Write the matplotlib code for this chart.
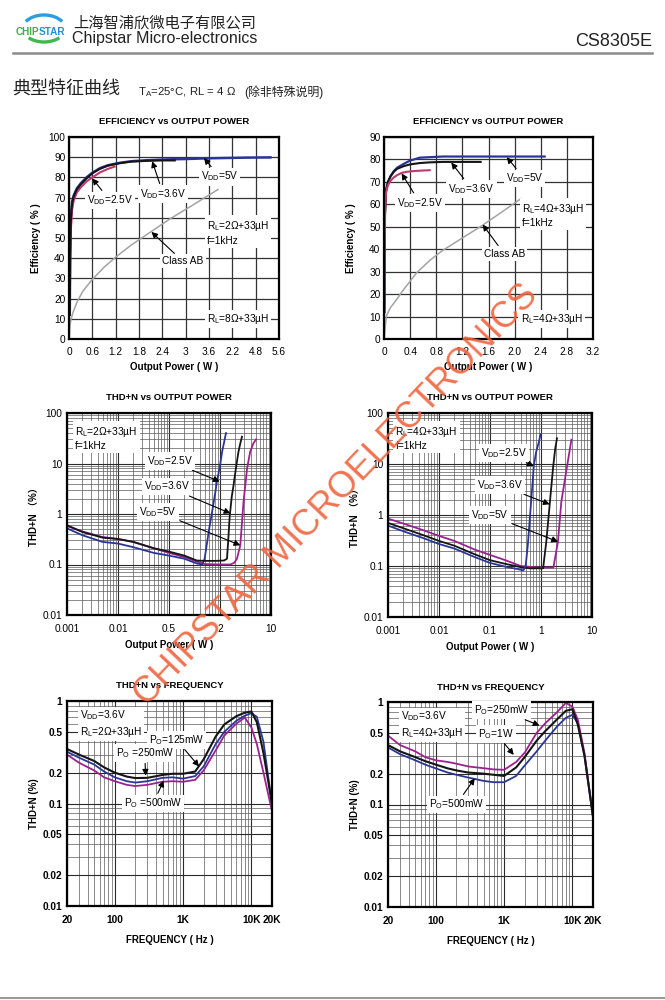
import numpy as np
import matplotlib
matplotlib.use('Agg')
import matplotlib.pyplot as plt
from matplotlib.patches import Arc
from matplotlib.ticker import LogLocator, NullFormatter

plt.rcParams['font.family'] = ['Liberation Sans', 'Noto Sans CJK SC', 'DejaVu Sans']
plt.rcParams['mathtext.fontset'] = 'custom'
plt.rcParams['mathtext.rm'] = 'Liberation Sans'
plt.rcParams['mathtext.it'] = 'Liberation Sans:italic'
plt.rcParams['mathtext.bf'] = 'Liberation Sans:bold'

# ---- efficiency vs output power, RL = 2 ohm ----
eff2_x_25 = [0.02, 0.03, 0.05, 0.08, 0.12, 0.2, 0.3, 0.45, 0.6, 0.8, 1.0, 1.17]
eff2_y_25 = [12, 38, 55, 64, 68.5, 72.5, 75, 78, 80, 82.5, 84.2, 85.3]
eff2_x_36 = [0.02, 0.03, 0.05, 0.08, 0.12, 0.2, 0.3, 0.45, 0.6, 0.8, 1.0, 1.3, 1.6, 2.0, 2.4, 2.72]
eff2_y_36 = [12, 42, 60, 67, 70.5, 74, 76.5, 79.5, 82, 84.3, 85.8, 87, 87.8, 88.2, 88.4, 88.4]
eff2_x_5 = [0.02, 0.03, 0.05, 0.08, 0.12, 0.2, 0.3, 0.45, 0.6, 0.8, 1.0, 1.3, 1.6, 2.0, 2.5, 3.0,
            3.5, 4.0, 4.6, 5.18]
eff2_y_5 = [12, 43, 61, 68, 71, 74.5, 77, 80, 82.3, 84.6, 86, 87.2, 88, 88.5, 88.9, 89.1,
            89.4, 89.6, 89.8, 89.9]
eff2_x_ab = [0, 0.02, 0.05, 0.1, 0.2, 0.35, 0.6, 0.9, 1.2, 1.6, 2.1, 2.6, 3.2, 3.83]
eff2_y_ab = [0, 6, 9.5, 13, 18, 23.5, 29.5, 35.5, 40.5, 46.5, 53, 59.5, 66.5, 74]
eff2_ticks = [0, 0.6, 1.2, 1.8, 2.4, 3.0, 3.6, 4.2, 4.8, 5.4]
eff2_ticklabels = ['0', '0.6', '1.2', '1.8', '2.4', '3', '3.6', '2.2', '4.8', '5.6']

# ---- efficiency vs output power, RL = 4 ohm ----
eff4_x_25 = [0.005, 0.015, 0.03, 0.06, 0.1, 0.15, 0.2, 0.27, 0.35, 0.45, 0.55, 0.7]
eff4_y_25 = [12, 55, 65, 68.5, 70.5, 72, 73, 74, 74.5, 74.8, 75, 75.2]
eff4_x_36 = [0.005, 0.015, 0.03, 0.06, 0.1, 0.15, 0.2, 0.3, 0.4, 0.55, 0.7, 0.9, 1.2, 1.48]
eff4_y_36 = [12, 56, 66, 70, 72.5, 74.5, 75.8, 77, 77.8, 78.4, 78.7, 78.9, 78.9, 78.9]
eff4_x_5 = [0.005, 0.015, 0.03, 0.06, 0.1, 0.15, 0.2, 0.3, 0.4, 0.55, 0.7, 0.9, 1.3, 1.8, 2.2, 2.46]
eff4_y_5 = [12, 56, 66, 70, 72.5, 74.8, 76.3, 78, 79.5, 80.8, 81.0, 81.3, 81.3, 81.3, 81.3, 81.3]
eff4_x_ab = [0, 0.02, 0.04, 0.1, 0.19, 0.3, 0.5, 0.7, 0.9, 1.2, 1.5, 1.8, 2.1]
eff4_y_ab = [0, 6, 10.5, 14, 17.5, 22, 29.5, 35, 39.5, 45, 50.5, 56.5, 62.6]
eff4_ticks = [0, 0.4, 0.8, 1.2, 1.6, 2.0, 2.4, 2.8, 3.2]
eff4_ticklabels = ['0', '0.4', '0.8', '1.2', '1.6', '2.0', '2.4', '2.8', '3.2']

# ---- THD+N vs output power, RL = 2 ohm ----
thd2_x_25 = [0.001, 0.002, 0.005, 0.01, 0.02, 0.05, 0.1, 0.2, 0.35, 0.45, 0.5, 0.56, 0.63,
             0.7, 0.8, 0.87, 1.0, 1.1, 1.31]
thd2_y_25 = [0.52, 0.38, 0.28, 0.26, 0.22, 0.17, 0.15, 0.13, 0.105, 0.1, 0.13, 0.28, 0.6,
             1.1, 2.5, 4.4, 9, 17, 40]
thd2_x_36 = [0.001, 0.002, 0.005, 0.01, 0.02, 0.05, 0.1, 0.2, 0.35, 0.5, 0.8, 1.2, 1.37,
             1.45, 1.55, 1.7, 1.85, 2.05, 2.3, 2.5, 2.7]
thd2_y_36 = [0.6, 0.44, 0.34, 0.32, 0.28, 0.21, 0.18, 0.15, 0.12, 0.118, 0.118, 0.12, 0.13,
             0.3, 0.9, 2.2, 3.8, 8, 17, 25, 34]
thd2_x_5 = [0.001, 0.002, 0.005, 0.01, 0.02, 0.05, 0.1, 0.2, 0.35, 0.5, 1.0, 1.6, 1.9, 2.15,
            2.5, 2.9, 3.4, 3.9, 4.5, 5.1]
thd2_y_5 = [0.58, 0.45, 0.35, 0.32, 0.28, 0.21, 0.17, 0.14, 0.115, 0.102, 0.1, 0.1, 0.108,
            0.13, 0.24, 1.8, 8, 17, 25, 30]

# ---- THD+N vs output power, RL = 4 ohm ----
thd4_x_25 = [0.001, 0.002, 0.005, 0.01, 0.02, 0.05, 0.1, 0.2, 0.35, 0.45, 0.5, 0.55, 0.62,
             0.68, 0.72, 0.8, 0.9, 0.98]
thd4_y_25 = [0.62, 0.48, 0.35, 0.27, 0.22, 0.15, 0.115, 0.097, 0.087, 0.082, 0.1, 0.25, 1.2,
             4, 9, 17, 26, 38]
thd4_x_36 = [0.001, 0.002, 0.005, 0.01, 0.02, 0.05, 0.1, 0.2, 0.4, 0.6, 0.8, 1.1, 1.27,
             1.48, 1.72, 1.9, 2.06]
thd4_y_36 = [0.7, 0.55, 0.4, 0.31, 0.25, 0.17, 0.13, 0.11, 0.095, 0.09, 0.09, 0.09, 0.3,
             1.6, 8.3, 20, 32]
thd4_x_5 = [0.001, 0.002, 0.005, 0.01, 0.02, 0.05, 0.1, 0.2, 0.4, 0.7, 1.0, 1.4, 1.75, 2.15,
            2.5, 3.2, 3.6, 3.95]
thd4_y_5 = [0.85, 0.68, 0.5, 0.39, 0.31, 0.21, 0.165, 0.13, 0.1, 0.095, 0.093, 0.093, 0.093,
            0.3, 1.8, 8.3, 17, 30]

pwr_ticks = [0.001, 0.01, 0.1, 1, 10]
pwr_ticklabels_2 = ['0.001', '0.01', '0.5', '2', '10']
pwr_ticklabels_4 = ['0.001', '0.01', '0.1', '1', '10']
thd_ticks = [0.01, 0.1, 1, 10, 100]
thd_ticklabels = ['0.01', '0.1', '1', '10', '100']

# ---- THD+N vs frequency ----
freq = [20, 30, 50, 70, 100, 150, 200, 300, 500, 700, 1000, 1500, 2000, 3000, 4000, 6000,
        8000, 10000, 12000, 15000, 20000]
f2_125 = [0.34, 0.3, 0.26, 0.225, 0.2, 0.183, 0.177, 0.178, 0.19, 0.195, 0.195, 0.205, 0.27,
          0.45, 0.59, 0.71, 0.77, 0.79, 0.62, 0.31, 0.1]
f2_250 = [0.32, 0.28, 0.24, 0.205, 0.18, 0.165, 0.16, 0.165, 0.178, 0.18, 0.175, 0.185, 0.23,
          0.38, 0.5, 0.64, 0.72, 0.76, 0.7, 0.4, 0.097]
f2_500 = [0.3, 0.25, 0.21, 0.18, 0.165, 0.152, 0.148, 0.152, 0.163, 0.165, 0.163, 0.17, 0.21,
          0.33, 0.46, 0.6, 0.69, 0.55, 0.38, 0.2, 0.084]
f4_250 = [0.47, 0.38, 0.33, 0.29, 0.27, 0.26, 0.25, 0.235, 0.226, 0.22, 0.218, 0.26, 0.32,
          0.5, 0.62, 0.8, 0.98, 0.9, 0.67, 0.32, 0.076]
f4_1w = [0.38, 0.33, 0.29, 0.265, 0.245, 0.225, 0.215, 0.205, 0.2, 0.195, 0.19, 0.23, 0.29,
         0.42, 0.52, 0.68, 0.82, 0.85, 0.6, 0.3, 0.076]
f4_500 = [0.36, 0.31, 0.27, 0.245, 0.225, 0.205, 0.195, 0.183, 0.17, 0.165, 0.165, 0.19, 0.24,
          0.33, 0.42, 0.58, 0.7, 0.75, 0.62, 0.3, 0.076]
freq_ticks = [20, 100, 1000, 10000, 20000]
freq_ticklabels = ['20', '100', '1K', '10K', '20K']
fthd_ticks = [0.01, 0.02, 0.05, 0.1, 0.2, 0.5, 1]
fthd_ticklabels = ['0.01', '0.02', '0.05', '0.1', '0.2', '0.5', '1']

BLUE = '#2a3696'
BLACK = '#151515'
MAG = '#9c2190'
PINK = '#c2386f'
GRAY = '#a3a3a3'
VDD = r'V$_{\rm DD}$='
RL = r'R$_{\rm L}$='
PO = r'P$_{\rm O}$'

fig = plt.figure(figsize=(6.65, 10), dpi=100)


def place(l, r, t, b):
    return fig.add_axes([l / 665, 1 - b / 1000, (r - l) / 665, (b - t) / 1000])


def frame(ax, title):
    ax.set_title(title, fontsize=6.8, fontweight='bold', pad=9)
    for s in ax.spines.values():
        s.set_linewidth(1.6)
    ax.set_axisbelow(True)
    ax.yaxis.set_label_coords(-0.135, 0.5)


def label(ax, txt, xy, tip=None, ha='center', fs=7.3):
    box = dict(boxstyle='square,pad=0.2', fc='white', ec='none')
    if tip is None:
        ax.text(xy[0], xy[1], txt, ha=ha, va='center', fontsize=fs, bbox=box, zorder=5,
                linespacing=1.3)
    else:
        ax.annotate(txt, xy=tip, xytext=xy, ha=ha, va='center', fontsize=fs, bbox=box,
                    zorder=5, arrowprops=dict(arrowstyle='-|>', color='black', lw=0.8,
                                              mutation_scale=9, shrinkA=1, shrinkB=0))


def eff_axes(ax, xmax, ticks, ticklabels, ymax):
    ax.set_xlim(0, xmax)
    ax.set_ylim(0, ymax)
    ax.set_xticks(ticks)
    ax.set_xticklabels(ticklabels)
    ax.set_yticks(np.arange(0, ymax + 1, 10))
    ax.grid(True, color='#333333', lw=0.9)
    ax.tick_params(length=0, labelsize=7.3)
    ax.tick_params(axis='x', pad=6)
    ax.tick_params(axis='y', pad=2.5)
    ax.set_xlabel('Output Power ( W )', fontsize=7, fontweight='bold', labelpad=3)
    ax.set_ylabel('Efficiency ( % )', fontsize=7, fontweight='bold')


def log_axes(ax, xlim, ylim, xt, xtl, yt, ytl, bold=False):
    ax.set_xscale('log')
    ax.set_yscale('log')
    ax.set_xlim(*xlim)
    ax.set_ylim(*ylim)
    ax.set_xticks(xt)
    ax.set_xticklabels(xtl)
    ax.set_yticks(yt)
    ax.set_yticklabels(ytl)
    for a in (ax.xaxis, ax.yaxis):
        a.set_minor_locator(LogLocator(10, subs=np.arange(2, 10)))
        a.set_minor_formatter(NullFormatter())
    ax.grid(True, which='major', color='#2a2a2a', lw=0.8)
    ax.grid(True, which='minor', color='#5a5a5a', lw=0.5)
    ax.tick_params(which='both', length=0, labelsize=7.3)
    ax.tick_params(axis='x', pad=6.5)
    ax.tick_params(axis='y', pad=3.5)
    if bold:
        for t in ax.get_xticklabels() + ax.get_yticklabels():
            t.set_fontweight('bold')


# ---- efficiency 2 ohm ----
ax1 = place(69, 279, 137, 339)
frame(ax1, 'EFFICIENCY vs OUTPUT POWER')
eff_axes(ax1, 5.4, eff2_ticks, eff2_ticklabels, 100)
ax1.plot(eff2_x_ab, eff2_y_ab, color=GRAY, lw=1.1)
ax1.plot(eff2_x_5, eff2_y_5, color=BLUE, lw=1.8)
ax1.plot(eff2_x_25, eff2_y_25, color=PINK, lw=1.5)
ax1.plot(eff2_x_36, eff2_y_36, color=BLACK, lw=1.5)
label(ax1, VDD + '2.5V', (1.05, 68.6), (0.6, 79.5))
label(ax1, VDD + '3.6V', (2.42, 71.9), (2.14, 88))
label(ax1, VDD + '5V', (3.87, 80.4), (3.47, 89.6))
label(ax1, RL + '2Ω+33µH\nf=1kHz', (3.55, 52.7), ha='left')
label(ax1, 'Class AB', (2.93, 38.4), (2.12, 53))
label(ax1, RL + '8Ω+33µH', (3.55, 9.8), ha='left')

# ---- efficiency 4 ohm ----
ax2 = place(384, 593, 137, 339)
frame(ax2, 'EFFICIENCY vs OUTPUT POWER')
eff_axes(ax2, 3.2, eff4_ticks, eff4_ticklabels, 90)
ax2.plot(eff4_x_ab, eff4_y_ab, color=GRAY, lw=1.1)
ax2.plot(eff4_x_5, eff4_y_5, color=BLUE, lw=1.6)
ax2.plot(eff4_x_36, eff4_y_36, color=BLACK, lw=1.5)
ax2.plot(eff4_x_25, eff4_y_25, color=PINK, lw=1.5)
label(ax2, VDD + '2.5V', (0.55, 60.6), (0.27, 73.8))
label(ax2, VDD + '3.6V', (1.34, 67), (1.03, 78.6))
label(ax2, VDD + '5V', (2.15, 71.5), (1.88, 81))
label(ax2, RL + '4Ω+33µH\nf=1kHz', (2.11, 55.3), ha='left')
label(ax2, 'Class AB', (1.84, 38), (1.51, 51))
label(ax2, RL + '4Ω+33µH', (2.09, 9.1), ha='left')

# ---- THD+N vs power 2 ohm ----
ax3 = place(67, 271, 413, 615)
frame(ax3, 'THD+N vs OUTPUT POWER')
log_axes(ax3, (0.001, 10), (0.01, 100), pwr_ticks, pwr_ticklabels_2, thd_ticks, thd_ticklabels)
ax3.plot(thd2_x_5, thd2_y_5, color=MAG, lw=1.3)
ax3.plot(thd2_x_25, thd2_y_25, color=BLUE, lw=1.3)
ax3.plot(thd2_x_36, thd2_y_36, color=BLACK, lw=1.3)
ax3.set_xlabel('Output Power ( W )', fontsize=7, fontweight='bold', labelpad=4)
ax3.set_ylabel('THD+N （%）', fontsize=7, fontweight='bold')
label(ax3, RL + '2Ω+33µH\nf=1kHz', (0.00145, 32), ha='left')
label(ax3, VDD + '2.5V', (0.103, 11.3), (0.98, 4.4))
label(ax3, VDD + '3.6V', (0.091, 3.5), (1.6, 1.03))
label(ax3, VDD + '5V', (0.06, 1.11), (2.5, 0.24))

# ---- THD+N vs power 4 ohm ----
ax4 = place(388, 592, 413, 617)
frame(ax4, 'THD+N vs OUTPUT POWER')
log_axes(ax4, (0.001, 10), (0.01, 100), pwr_ticks, pwr_ticklabels_4, thd_ticks, thd_ticklabels)
ax4.plot(thd4_x_5, thd4_y_5, color=MAG, lw=1.3)
ax4.plot(thd4_x_36, thd4_y_36, color=BLACK, lw=1.3)
ax4.plot(thd4_x_25, thd4_y_25, color=BLUE, lw=1.3)
ax4.set_xlabel('Output Power ( W )', fontsize=7, fontweight='bold', labelpad=4)
ax4.set_ylabel('THD+N （%）', fontsize=7, fontweight='bold')
label(ax4, RL + '4Ω+33µH\nf=1kHz', (0.0014, 32), ha='left')
label(ax4, VDD + '2.5V', (0.188, 16.3), (0.72, 9.2))
label(ax4, VDD + '3.6V', (0.155, 3.9), (1.48, 1.62))
label(ax4, VDD + '5V', (0.1, 1.0), (2.15, 0.3))

# ---- THD+N vs frequency 2 ohm ----
ax5 = place(67, 272, 701, 906)
frame(ax5, 'THD+N vs FREQUENCY')
log_axes(ax5, (20, 20000), (0.01, 1), freq_ticks, freq_ticklabels, fthd_ticks,
         fthd_ticklabels, bold=True)
ax5.plot(freq, f2_500, color=MAG, lw=1.3)
ax5.plot(freq, f2_250, color=BLUE, lw=1.3)
ax5.plot(freq, f2_125, color=BLACK, lw=1.5)
ax5.set_xlabel('FREQUENCY ( Hz )', fontsize=7, fontweight='bold', labelpad=7)
ax5.set_ylabel('THD+N (%)', fontsize=7, fontweight='bold')
label(ax5, VDD + '3.6V\n' + RL + '2Ω+33µH', (30.6, 0.6), ha='left')
label(ax5, PO + '=125mW', (795, 0.42), (1710, 0.23))
label(ax5, PO + ' =250mW', (274, 0.31), (283, 0.187))
label(ax5, PO + ' =500mW', (363, 0.1), (520, 0.167))

# ---- THD+N vs frequency 4 ohm ----
ax6 = place(388, 593, 702, 907)
frame(ax6, 'THD+N vs FREQUENCY')
log_axes(ax6, (20, 20000), (0.01, 1), freq_ticks, freq_ticklabels, fthd_ticks,
         fthd_ticklabels, bold=True)
ax6.plot(freq, f4_500, color=BLUE, lw=1.3)
ax6.plot(freq, f4_250, color=MAG, lw=1.3)
ax6.plot(freq, f4_1w, color=BLACK, lw=1.5)
ax6.set_xlabel('FREQUENCY ( Hz )', fontsize=7, fontweight='bold', labelpad=7)
ax6.set_ylabel('THD+N (%)', fontsize=7, fontweight='bold')
label(ax6, VDD + '3.6V\n' + RL + '4Ω+33µH', (31, 0.6), ha='left')
label(ax6, PO + '=250mW', (916, 0.83), (3300, 0.59))
label(ax6, PO + '=1W', (769, 0.49), (1384, 0.305))
label(ax6, PO + '=500mW', (200, 0.1), (372, 0.18))

# ---- page decoration: header, rules, watermark ----
ov = fig.add_axes([0, 0, 1, 1], zorder=10)
ov.set_xlim(0, 665)
ov.set_ylim(1000, 0)
ov.axis('off')
ov.patch.set_alpha(0)

ov.add_patch(Arc((44, 30), 44, 30, theta1=205, theta2=335, color='#2a9ee0', lw=2.4))
ov.add_patch(Arc((44, 27), 44, 30, theta1=35, theta2=145, color='#3dbb4a', lw=2.4))
ov.text(16, 32, 'CHIP', color='#3dae48', fontsize=7.2, fontweight='bold', va='center')
ov.text(38.3, 32, 'STAR', color='#1f8fd6', fontsize=7.2, fontweight='bold', va='center')
ov.text(73, 23, '上海智浦欣微电子有限公司', fontsize=11, va='center',
        family=['Noto Sans CJK SC'], color='#222222')
ov.text(72, 38.5, 'Chipstar Micro-electronics', fontsize=11.5, va='center', color='#222222')
ov.text(652, 41, 'CS8305E', fontsize=13, ha='right', va='center', color='#222222')
ov.plot([13, 652], [53, 53], color='#8c8c8c', lw=1.8)
ov.plot([0, 665], [998, 998], color='#9a9a9a', lw=1.5)
ov.text(12, 90, '典型特征曲线', fontsize=13, va='center', family=['Noto Sans CJK SC'],
        color='#222222')
ov.text(138, 92, r'T$_{\rm A}$=25°C, RL = 4 Ω', fontsize=8.2, va='center', color='#222222')
ov.text(244, 92, '(除非特殊说明)', fontsize=8.6, va='center', color='#222222')

ov.text(336, 495, 'CHIPSTAR MICROELECTRONICS', fontsize=26, color='#f0643f', alpha=0.9,
        rotation=46.3, rotation_mode='anchor', ha='center', va='center')

fig.savefig('out.png', dpi=100)
